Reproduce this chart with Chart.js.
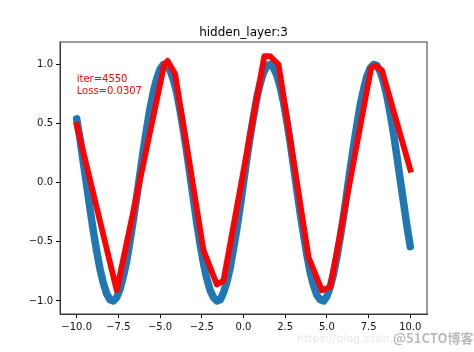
<!DOCTYPE html>
<html>
<head>
<meta charset="utf-8">
<script src="https://cdn.jsdelivr.net/npm/chart.js@4"></script>
<style>
  html, body { margin: 0; padding: 0; background: #fff; }
  #wrap { width: 474px; height: 352px; position: relative; }
</style>
</head>
<body>
<div id="wrap"><canvas id="fit-chart" width="474" height="352"></canvas></div>
<script>
// target curve (scatter), x from -10 to 10
const sampleX = [
    -10, -9.8, -9.6, -9.4, -9.2, -9, -8.8, -8.6, -8.4, -8.2,
    -8, -7.8, -7.6, -7.4, -7.2, -7, -6.8, -6.6, -6.4, -6.2,
    -6, -5.8, -5.6, -5.4, -5.2, -5, -4.8, -4.6, -4.4, -4.2,
    -4, -3.8, -3.6, -3.4, -3.2, -3, -2.8, -2.6, -2.4, -2.2,
    -2, -1.8, -1.6, -1.4, -1.2, -1, -0.8, -0.6, -0.4, -0.2,
    0, 0.2, 0.4, 0.6, 0.8, 1, 1.2, 1.4, 1.6, 1.8,
    2, 2.2, 2.4, 2.6, 2.8, 3, 3.2, 3.4, 3.6, 3.8,
    4, 4.2, 4.4, 4.6, 4.8, 5, 5.2, 5.4, 5.6, 5.8,
    6, 6.2, 6.4, 6.6, 6.8, 7, 7.2, 7.4, 7.6, 7.8,
    8, 8.2, 8.4, 8.6, 8.8, 9, 9.2, 9.4, 9.6, 9.8, 10
];
const sampleY = [
    0.54, 0.37, 0.17, -0.02, -0.22, -0.41, -0.58, -0.73, -0.85, -0.94,
    -0.99, -1.00, -0.97, -0.90, -0.79, -0.66, -0.49, -0.31, -0.12, 0.08,
    0.28, 0.46, 0.63, 0.77, 0.88, 0.96, 1.00, 0.99, 0.95, 0.87,
    0.76, 0.61, 0.44, 0.26, 0.06, -0.14, -0.34, -0.52, -0.68, -0.81,
    -0.91, -0.97, -1.00, -0.99, -0.93, -0.84, -0.72, -0.56, -0.39, -0.20,
    0.00, 0.20, 0.39, 0.56, 0.72, 0.84, 0.93, 0.99, 1.00, 0.97,
    0.91, 0.81, 0.68, 0.52, 0.34, 0.14, -0.06, -0.26, -0.44, -0.61,
    -0.76, -0.87, -0.95, -0.99, -1.00, -0.96, -0.88, -0.77, -0.63, -0.46,
    -0.28, -0.08, 0.12, 0.31, 0.49, 0.66, 0.79, 0.90, 0.97, 1.00,
    0.99, 0.94, 0.85, 0.73, 0.58, 0.41, 0.22, 0.02, -0.17, -0.37, -0.54
];

// network prediction (red line)
const predX = [-10, -7.6, -4.75, -4.55, -4.1, -2.4, -1.6, -1.2, 1.25, 1.6, 2.1, 3.9, 4.7, 5.2, 7.65, 7.9, 8.3, 10];
const predY = [0.49, -0.91, 1.0, 1.03, 0.92, -0.57, -0.86, -0.83, 1.07, 1.07, 1.0, -0.63, -0.91, -0.88, 0.97, 0.99, 0.95, 0.11];

const xTicks = [-10, -7.5, -5, -2.5, 0, 2.5, 5, 7.5, 10];
const yTicks = [-1, -0.5, 0, 0.5, 1];

const titleText = "hidden_layer:3";
const noteLines = ["iter=4550", "Loss=0.0307"];

const fmt = (v) => v.toFixed(1).replace("-", "\u2212");

const decorations = {
    id: "decorations",
    afterDraw(chart) {
        const ctx = chart.ctx;
        const area = chart.chartArea;
        const xs = chart.scales.x;
        const ys = chart.scales.y;
        ctx.save();
        // frame on all four sides
        ctx.strokeStyle = "#3a3a3a";
        ctx.lineWidth = 1;
        ctx.strokeRect(area.left, area.top, area.right - area.left, area.bottom - area.top);

        // title
        ctx.fillStyle = "#000";
        ctx.font = "12px 'DejaVu Sans'";
        ctx.textAlign = "center";
        ctx.textBaseline = "alphabetic";
        ctx.fillText(titleText, (area.left + area.right) / 2, 36);

        // iteration / loss note, anchored at data (-10, 0.75)
        ctx.fillStyle = "#ff0000";
        ctx.font = "10px 'DejaVu Sans'";
        ctx.textAlign = "left";
        const nx = xs.getPixelForValue(-10);
        const ny = ys.getPixelForValue(0.75);
        ctx.fillText(noteLines[0], nx, ny - 11.7);
        ctx.fillText(noteLines[1], nx, ny);

        // watermark
        ctx.font = "11px 'DejaVu Sans'";
        ctx.fillStyle = "rgba(0,0,0,0.10)";
        ctx.fillText("https://blog.csdn.net", 297, 342);
        ctx.font = "bold 13px 'Noto Sans CJK SC'";
        ctx.lineWidth = 2;
        ctx.strokeStyle = "rgba(255,255,255,0.9)";
        ctx.strokeText("@51CTO博客", 393, 343);
        ctx.fillStyle = "rgba(0,0,0,0.28)";
        ctx.fillText("@51CTO博客", 393, 343);
        ctx.restore();
    },
};

const config = {
    type: "line",
    data: {
        datasets: [
            {
                label: "prediction",
                data: predX.map((x, i) => ({ x: x, y: predY[i] })),
                borderColor: "#ff0000",
                backgroundColor: "#ff0000",
                borderWidth: 5.8,
                borderCapStyle: "square",
                borderJoinStyle: "round",
                pointRadius: 0,
                tension: 0,
                order: 1,
            },
            {
                label: "target",
                data: sampleX.map((x, i) => ({ x: x, y: sampleY[i] })),
                borderColor: "#1f77b4",
                backgroundColor: "#1f77b4",
                borderWidth: 7.5,
                borderCapStyle: "round",
                borderJoinStyle: "round",
                pointRadius: 0,
                tension: 0,
                order: 2,
            },
        ],
    },
    options: {
        animation: false,
        responsive: false,
        events: [],
        layout: {
            padding: { left: 0, top: 42, right: 47, bottom: 0 },
        },
        scales: {
            x: {
                type: "linear",
                min: -11,
                max: 11,
                afterFit: (s) => { s.height = 38; },
                afterBuildTicks: (s) => { s.ticks = xTicks.map((v) => ({ value: v })); },
                grid: {
                    display: true,
                    drawOnChartArea: false,
                    drawTicks: true,
                    tickLength: 4,
                    tickColor: "#000",
                },
                border: { display: true, color: "#3a3a3a", width: 1 },
                ticks: {
                    autoSkip: false,
                    maxRotation: 0,
                    padding: 3,
                    color: "#111",
                    font: { family: "'DejaVu Sans'", size: 10 },
                    callback: (v) => fmt(v),
                },
            },
            y: {
                type: "linear",
                min: -1.11,
                max: 1.19,
                afterFit: (s) => { s.width = 60; },
                afterBuildTicks: (s) => { s.ticks = yTicks.map((v) => ({ value: v })); },
                grid: {
                    display: true,
                    drawOnChartArea: false,
                    drawTicks: true,
                    tickLength: 4,
                    tickColor: "#000",
                },
                border: { display: true, color: "#3a3a3a", width: 1 },
                ticks: {
                    padding: 3,
                    color: "#111",
                    font: { family: "'DejaVu Sans'", size: 10 },
                    callback: (v) => fmt(v),
                },
            },
        },
        plugins: {
            legend: { display: false },
            title: { display: false },
            tooltip: { enabled: false },
        },
    },
    plugins: [decorations],
};

new Chart(document.getElementById("fit-chart"), config);
</script>
</body>
</html>
